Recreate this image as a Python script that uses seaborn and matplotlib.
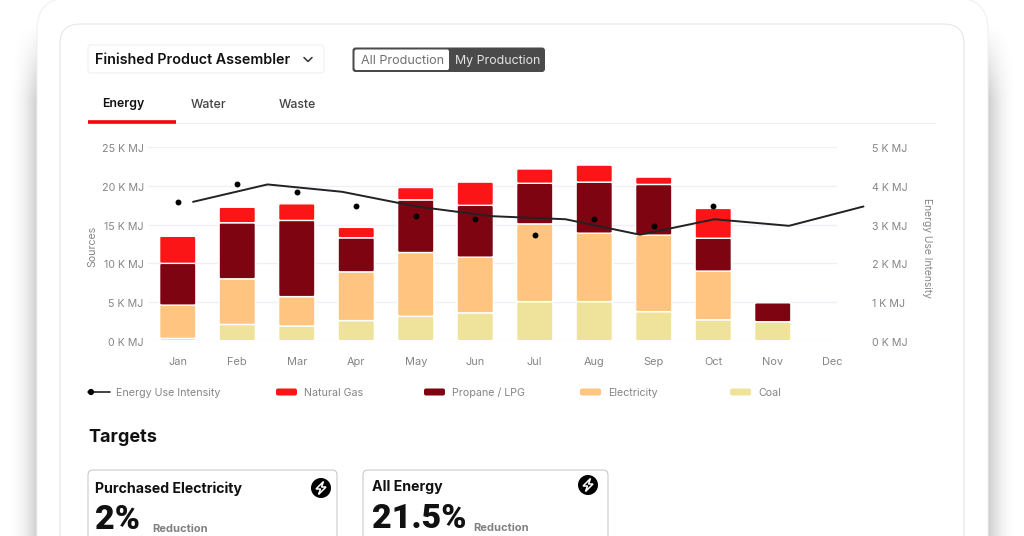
import numpy as np
import matplotlib
matplotlib.use("Agg")
import matplotlib.pyplot as plt
from matplotlib.patches import FancyBboxPatch, Circle, Polygon
from matplotlib.transforms import IdentityTransform, ScaledTranslation
import seaborn as sns

months = ["Jan", "Feb", "Mar", "Apr", "May", "Jun", "Jul", "Aug", "Sep", "Oct", "Nov", "Dec"]
coal = [0.3, 2.1, 1.9, 2.6, 3.15, 3.6, 5.05, 5.05, 3.75, 2.7, 2.45, 0]
electricity = [4.3, 5.9, 3.8, 6.3, 8.25, 7.2, 10.05, 8.85, 9.9, 6.3, 0, 0]
propane = [5.4, 7.25, 9.85, 4.4, 6.8, 6.7, 5.25, 6.6, 6.55, 4.25, 2.45, 0]
gas = [3.5, 2.0, 2.15, 1.35, 1.6, 3.0, 1.85, 2.2, 0.95, 3.85, 0, 0]
eui = [3.59, 4.04, 3.85, 3.47, 3.22, 3.14, 2.74, 3.14, 2.97, 3.47]
left_ticks = [0, 5, 10, 15, 20, 25]
right_ticks = [0, 1, 2, 3, 4, 5]

C_COAL = "#efe39c"
C_ELEC = "#fec480"
C_PROP = "#7e0412"
C_GAS = "#fb1516"
GREY = "#858585"

sns.set_theme(style="white")
plt.rcParams["font.family"] = ["Inter", "DejaVu Sans"]

W, H = 1024, 536
fig = plt.figure(figsize=(W / 100, H / 100), dpi=100, facecolor="white")

# page furniture, drawn in pixel coordinates
bg = fig.add_axes([0, 0, 1, 1], zorder=0)
bg.set_xlim(0, W)
bg.set_ylim(H, 0)
bg.axis("off")


def box(x0, y0, x1, y1, fc="white", ec="none", lw=1.0, r=4, z=2):
    bg.add_patch(FancyBboxPatch((x0, y0), x1 - x0, y1 - y0,
                                boxstyle=f"round,pad=0,rounding_size={r}",
                                fc=fc, ec=ec, lw=lw, zorder=z))


# soft shadow either side of the outer card
xx, yy = np.meshgrid(np.arange(W), np.arange(H))
dist = np.where(xx < 512, 37 - xx, xx - 988).astype(float)
fade = np.clip(1 - dist / 30, 0, 1) ** 2
ramp = np.clip((yy - 25) / 75, 0, 1)
shadow = 1 - 0.2 * fade * ramp
bg.imshow(shadow, cmap="gray", vmin=0, vmax=1, extent=(0, W, H, 0), aspect="auto", zorder=1)
bg.set_xlim(0, W)
bg.set_ylim(H, 0)

box(37, -2, 988, H + 40, ec="#f0f0f0", lw=0.8, r=32, z=2)
box(60, 24, 964, H + 40, ec="#e4e4e4", lw=0.7, r=20, z=3)

# header controls
box(88, 45, 324, 73, ec="#f0f0f0", lw=0.8, r=3, z=4)
bg.text(95, 60, "Finished Product Assembler", fontsize=10.3, fontweight="semibold",
        color="#111111", va="center", zorder=5)
bg.plot([304, 308, 312], [57.5, 61.5, 57.5], color="#333333", lw=1.1, zorder=5)
box(352.5, 47.5, 545, 72, fc="#4a4a4a", r=3, z=4)
box(354.5, 49.5, 449, 70, fc="white", r=2, z=5)
bg.text(361, 61, "All Production", fontsize=9.0, color="#6f6f6f", va="center", zorder=6)
bg.text(455, 61, "My Production", fontsize=8.9, color="#e6e6e6", va="center", zorder=6)

# tabs
bg.text(102, 104.5, "Energy", fontsize=8.9, fontweight="semibold", color="#111111", va="center", zorder=5)
bg.text(191, 104.5, "Water", fontsize=8.9, fontweight="medium", color="#444444", va="center", zorder=5)
bg.text(279, 104.5, "Waste", fontsize=8.9, fontweight="medium", color="#444444", va="center", zorder=5)
bg.plot([176, 935], [123, 123], color="#f0f0f0", lw=0.8, zorder=4)
bg.plot([88, 176], [121.5, 121.5], color="#f5050c", lw=2.6, solid_capstyle="butt", zorder=5)

# legend row
bg.plot([88, 110], [392, 392], color="#222222", lw=1.2, zorder=5)
bg.add_patch(Circle((91, 392), 3.1, fc="black", ec="none", zorder=6))
legend_labels = ["Natural Gas", "Propane / LPG", "Electricity", "Coal"]
legend_colors = [C_GAS, C_PROP, C_ELEC, C_COAL]
legend_x = [276, 424, 580, 730]
bg.text(116, 393, "Energy Use Intensity", fontsize=7.7, color=GREY, va="center", zorder=5)
for name, col, lx in zip(legend_labels, legend_colors, legend_x):
    box(lx, 388.5, lx + 21, 395.5, fc=col, r=2, z=5)
    bg.text(lx + 28, 393, name, fontsize=7.7, color=GREY, va="center", zorder=5)

# targets section
bg.text(88, 437, "Targets", fontsize=13, fontweight="bold", color="#111111", va="center", zorder=5)
box(88, 470, 337, H + 30, ec="#c2c2c2", lw=0.7, r=5, z=4)
box(363, 470, 608, H + 30, ec="#c2c2c2", lw=0.7, r=5, z=4)
bg.text(95, 489, "Purchased Electricity", fontsize=10.2, fontweight="bold", color="#111111", va="center", zorder=5)
bg.text(372, 487, "All Energy", fontsize=10.2, fontweight="bold", color="#111111", va="center", zorder=5)
bg.text(95, 520, "2%", fontsize=24.5, fontweight="black", family=["Roboto", "DejaVu Sans"],
        color="#111111", va="center", zorder=5)
bg.text(372, 519, "21.5%", fontsize=24.5, fontweight="black", family=["Roboto", "DejaVu Sans"],
        color="#111111", va="center", zorder=5)
bg.text(152, 529, "Reduction", fontsize=8, fontweight="bold", color="#808080", va="center", zorder=5)
bg.text(473, 528, "Reduction", fontsize=8, fontweight="bold", color="#808080", va="center", zorder=5)
for cx, cy in [(321, 488), (588, 485)]:
    bg.add_patch(Circle((cx, cy), 10, fc="black", ec="none", zorder=5))
    bolt = np.array([[2.5, -6.5], [-5, 1], [-0.5, 1], [-2.5, 6.5], [5, -1], [0.5, -1]]) + [cx, cy]
    bg.add_patch(Polygon(bolt, closed=True, fc="none", ec="white", lw=1.1, zorder=6))

# chart area
ax = fig.add_axes([148 / W, 1 - 340.7 / H, (837 - 148) / W, 193.4 / H], zorder=2)
ax.patch.set_alpha(0)

base = np.zeros(len(months))
for values, col in zip([coal, electricity, propane, gas], [C_COAL, C_ELEC, C_PROP, C_GAS]):
    sns.barplot(x=months, y=values, bottom=base, color=col, width=0.61, saturation=1,
                order=months, ax=ax, zorder=3)
    base = base + np.array(values)

ax.set_xlim(-0.5, 11.08)
ax.set_ylim(0, 25)
ax.set_yticks(left_ticks)
ax.set_yticklabels([f"{t} K MJ" for t in left_ticks])
ax.set_xticks(range(len(months)))
ax.set_xticklabels(months)
ax.set_ylabel("Sources", fontsize=7.6, color=GREY)
ax.yaxis.set_label_coords(-0.073, 0.49)
ax.tick_params(axis="y", length=0, pad=3, labelsize=7.7, labelcolor=GREY)
ax.tick_params(axis="x", length=0, pad=12, labelsize=7.9, labelcolor=GREY)
ax.grid(axis="y", color="#eef0f5", lw=1)
ax.set_axisbelow(True)
for s in ax.spines.values():
    s.set_visible(False)

# swap the square bars for slightly rounded ones
fig.canvas.draw()
for bar in list(ax.patches):
    x0, y0, x1, y1 = bar.get_window_extent().extents
    col = bar.get_facecolor()
    bar.remove()
    if y1 - y0 < 0.5:
        continue
    ax.add_patch(FancyBboxPatch((x0, y0), x1 - x0, y1 - y0,
                                boxstyle="round,pad=0,rounding_size=1.8",
                                fc=col, ec="white", lw=1.0,
                                transform=IdentityTransform(), zorder=3))

ax2 = ax.twinx()
ax2.patch.set_alpha(0)
ax2.set_ylim(0, 5)
ax2.set_yticks(right_ticks)
ax2.set_yticklabels([f"{t} K MJ" for t in right_ticks])
ax2.set_ylabel("Energy Use Intensity", fontsize=7.4, color=GREY, rotation=270, va="center")
ax2.yaxis.set_label_coords(1.1306, 0.48)
ax2.tick_params(axis="y", length=0, pad=25, labelsize=7.7, labelcolor=GREY)
ax2.grid(False)
for s in ax2.spines.values():
    s.set_visible(False)

# y tick labels sit a pixel lower in the reference
nudge = ScaledTranslation(0, -1 / 100, fig.dpi_scale_trans)
for lab in ax.get_yticklabels() + ax2.get_yticklabels():
    lab.set_transform(lab.get_transform() + nudge)

# the line runs on its own wider x scale than the dots
idx = np.arange(len(eui))
sns.lineplot(x=0.257 + 1.252 * idx, y=eui, color="#222222", lw=1.4, ax=ax2, clip_on=False, zorder=5)
sns.scatterplot(x=idx, y=eui, color="black", s=18, linewidth=0, ax=ax2, zorder=6)
ax2.set_xlim(-0.5, 11.08)

fig.savefig("out.png", dpi=100)
